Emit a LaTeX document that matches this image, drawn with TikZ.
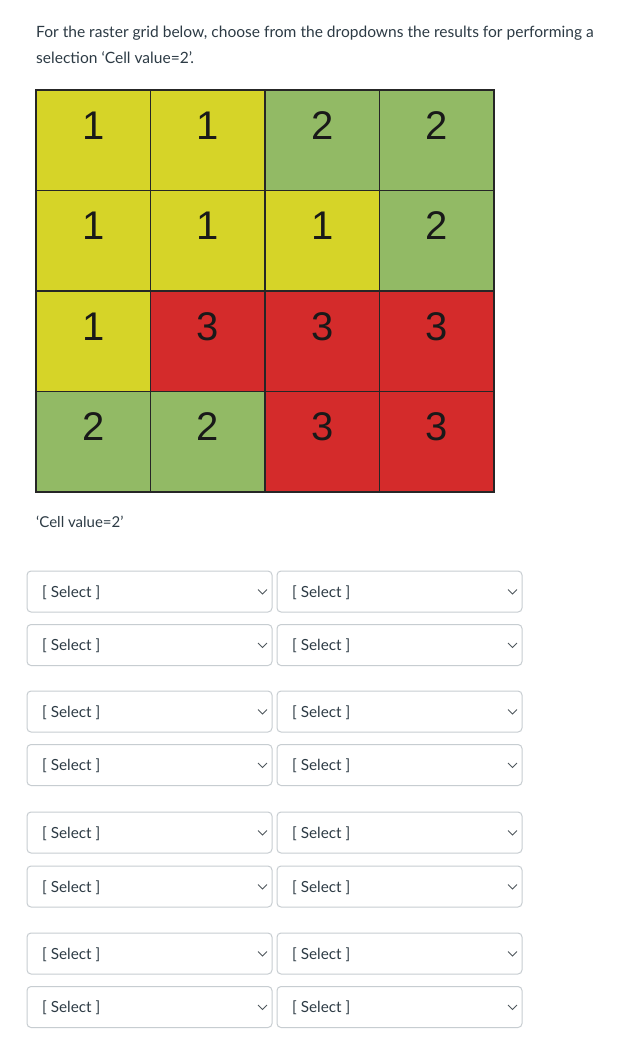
\documentclass[tikz,border=0pt]{standalone}
\usepackage{fontspec}
\setmainfont{Lato}
\newfontfamily\arialf{Liberation Sans}
\usetikzlibrary{calc}
\definecolor{ylw}{RGB}{214,212,40}
\definecolor{grn}{RGB}{146,186,101}
\definecolor{rd}{RGB}{212,43,43}
\definecolor{txt}{RGB}{45,59,69}
\definecolor{bdr}{RGB}{199,205,209}
\definecolor{chev}{RGB}{80,88,94}
\tikzset{
  cell/.style={draw=black!85, line width=1.5pt, minimum width=114.5pt, minimum height=100.5pt, inner sep=0pt, outer sep=0pt},
  num/.style={font=\arialf\fontsize{40}{40}\selectfont, anchor=base, inner sep=0pt, text=black!90},
  para/.style={anchor=base west, inner sep=0pt, text=txt, font=\fontsize{15.55}{19}\selectfont},
  dropbox/.style={draw=bdr, line width=1pt, rounded corners=4pt, minimum width=245pt, minimum height=41pt, inner sep=0pt, fill=white},
  seltxt/.style={anchor=base west, inner sep=0pt, text=txt, font=\fontsize{15.3}{18}\selectfont},
  chevron/.style={draw=chev, line width=1pt}
}
\begin{document}
\begin{tikzpicture}[x=1pt,y=-1pt]
\fill[white] (0,0) rectangle (619,1047);
\useasboundingbox (0,0) rectangle (619,1047);
\node[para] (t1) at (36,37) {For the raster grid below, choose from the dropdowns the results for performing a};
\node[para] (t2) at (36,63) {selection ‘Cell value=2’.};
\foreach \c/\r/\v/\f in {1/1/1/ylw, 2/1/1/ylw, 3/1/2/grn, 4/1/2/grn,
  1/2/1/ylw, 2/2/1/ylw, 3/2/1/ylw, 4/2/2/grn,
  1/3/1/ylw, 2/3/3/rd, 3/3/3/rd, 4/3/3/rd,
  1/4/2/grn, 2/4/2/grn, 3/4/3/rd, 4/4/3/rd}
{
  \node[cell, fill=\f] (c\r\c) at ({36+114.5*(\c-0.5)}, {90+100.5*(\r-0.5)}) {};
  \node[num] (n\r\c) at ($(c\r\c.north)+(0,49)$) {\v};
}
\node[para, font=\fontsize{15}{18}\selectfont] (lab) at (36,527) {‘Cell value=2’};
\foreach \i/\yc in {1/591.5, 2/645, 3/711.5, 4/765, 5/832.5, 6/886.5, 7/953.5, 8/1007}
{
  \node[dropbox] (dl\i) at (149.5,\yc) {};
  \node[dropbox] (dr\i) at (399.5,\yc) {};
  \node[seltxt] (sl\i) at ($(dl\i.west)+(15.5,5.5)$) {[ Select ]};
  \node[seltxt] (sr\i) at ($(dr\i.west)+(15.5,5.5)$) {[ Select ]};
  \coordinate (kl\i) at ($(dl\i.east)+(-10,0)$);
  \coordinate (kr\i) at ($(dr\i.east)+(-10,0)$);
  \draw[chevron] ($(kl\i)+(-4.5,-2)$) -- ($(kl\i)+(0,2.5)$) -- ($(kl\i)+(4.5,-2)$);
  \draw[chevron] ($(kr\i)+(-4.5,-2)$) -- ($(kr\i)+(0,2.5)$) -- ($(kr\i)+(4.5,-2)$);
}
\end{tikzpicture}
\end{document}
